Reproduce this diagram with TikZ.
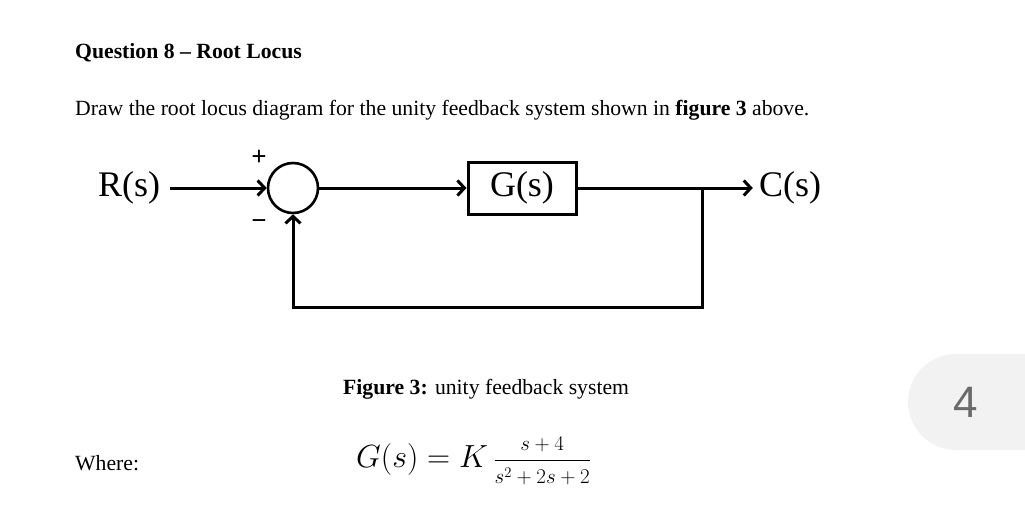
\documentclass[tikz,border=0pt]{standalone}
\usepackage{fix-cm}
\usepackage{fontspec}
\setmainfont{Liberation Serif}
\newfontfamily\tabfont{Liberation Sans}
\usetikzlibrary{positioning,arrows.meta}
\definecolor{tabgray}{HTML}{F2F2F2}
\definecolor{digitgray}{HTML}{6B6B6B}

\begin{document}
\begin{tikzpicture}[x=1pt,y=-1pt,on grid,
  wire/.style={line width=3pt},
  sig/.style={wire,-{Straight Barb[length=7pt,width=15pt]}},
  sumpt/.style={circle,draw,line width=2.6pt,minimum size=50pt,inner sep=0pt},
  blk/.style={rectangle,draw,line width=3pt,minimum width=108pt,minimum height=52pt,inner sep=0pt,
    font=\fontsize{36}{40}\selectfont},
  lbl/.style={font=\fontsize{36}{40}\selectfont,inner sep=6pt},
  sgn/.style={font=\bfseries\fontsize{27}{30}\selectfont,inner sep=0pt},
  txt/.style={anchor=base west,inner sep=0pt,font=\fontsize{21.7}{26}\selectfont}]
\useasboundingbox (0,0) rectangle (1025,508);
% page tab
\fill[tabgray,rounded corners=48pt] (908,354) rectangle (1120,450);
\node[font=\tabfont\fontsize{44}{48}\selectfont,text=digitgray] (page) at (966,402) {4};
% texts
\node[txt,font=\bfseries\fontsize{21.7}{26}\selectfont] (title) at (75,59) {Question 8 – Root Locus};
\node[txt] (task) at (75,116) {Draw the root locus diagram for the unity feedback system shown in \textbf{figure 3} above.};
\node[txt] (cap) at (343,394) {\textbf{Figure 3:} unity feedback system};
\node[txt] (where) at (75,470) {Where:};
\node[anchor=west,inner sep=0pt,font=\fontsize{32}{38}\selectfont] (tf) at (356,461)
  {$G(s) = K\,$\fontsize{21}{25}\selectfont\raisebox{2.5pt}{$\displaystyle\frac{s+4\rule[-8pt]{0pt}{8pt}}{\rule{0pt}{22pt}s^2+2s+2}$}};
% block diagram
\node[sumpt] (sum) at (293,188) {};
\node[lbl,inner sep=10pt] (r) [left=164pt of sum] {R(s)};
\node[blk] (g) [right=229pt of sum] {G(s)};
\node[lbl] (c) [right=497pt of sum] {C(s)};
\coordinate (br) at (702,188);
\coordinate (bot) at (702,307);
\node[sgn] (plus) at (259,158) {+};
\node[sgn] (minus) at (259,225) {−};
\path[sig]
(r) edge (sum)
(sum) edge (g)
(g) edge (c);
\draw[sig] (br) -- (bot) -| (sum);
\end{tikzpicture}
\end{document}
